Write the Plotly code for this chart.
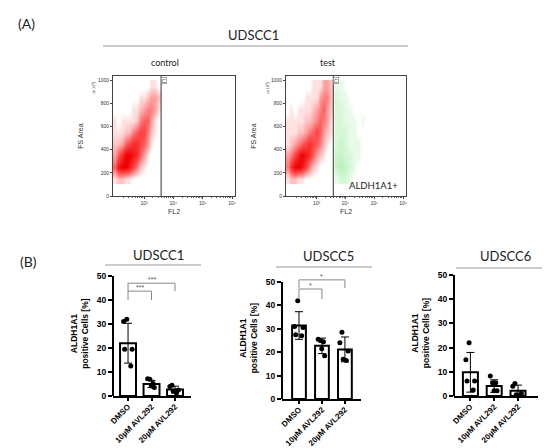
import numpy as np
import plotly.graph_objects as go

# ---- (A) flow cytometry, density (FL2 in log10 units) ----
flow_x_red = [2.0, 2.125, 2.25, 2.375, 2.5, 2.625, 2.75, 2.875, 3.0, 3.125, 3.25, 3.375, 3.5]
flow_x_green = [3.7, 3.85, 4.0, 4.15, 4.3, 4.45, 4.6, 4.75, 4.9]
flow_y = [150, 250, 350, 450, 550, 650, 750, 850, 950]

control_density = [
    [1, 2, 2, 1, 1, 0, 0, 0, 0, 0, 0, 0, 0],
    [5, 8, 9, 9, 8, 6, 4, 2, 1, 0, 0, 0, 0],
    [3, 5, 7, 9, 9, 8, 7, 5, 3, 1, 0, 0, 0],
    [2, 2, 3, 5, 6, 7, 7, 6, 5, 3, 1, 0, 0],
    [1, 1, 1, 2, 2, 4, 5, 6, 6, 4, 2, 1, 0],
    [1, 0, 1, 1, 1, 1, 2, 4, 5, 5, 3, 1, 0],
    [0, 0, 0, 0, 0, 1, 1, 2, 3, 4, 4, 3, 1],
    [0, 0, 0, 0, 0, 0, 0, 1, 1, 2, 3, 3, 2],
    [0, 0, 0, 0, 0, 0, 0, 0, 0, 0, 1, 1, 0],
]
test_density = [
    [1, 2, 2, 1, 1, 0, 0, 0, 0, 0, 0, 0, 0],
    [4, 7, 9, 9, 8, 6, 4, 2, 1, 0, 0, 0, 0],
    [3, 4, 6, 8, 9, 8, 7, 5, 3, 2, 1, 0, 0],
    [1, 2, 3, 4, 5, 6, 7, 6, 5, 4, 2, 1, 0],
    [1, 1, 1, 2, 2, 3, 4, 5, 6, 5, 3, 2, 1],
    [1, 1, 1, 1, 1, 2, 2, 3, 4, 5, 4, 3, 1],
    [0, 1, 0, 1, 1, 1, 1, 2, 3, 4, 5, 3, 2],
    [0, 0, 0, 0, 0, 1, 1, 1, 1, 3, 4, 4, 2],
    [0, 0, 0, 0, 0, 0, 0, 1, 1, 1, 3, 3, 2],
]
positive_density = [
    [1, 2, 2, 1, 0, 0, 0, 0, 0],
    [3, 4, 3, 2, 1, 0, 0, 0, 0],
    [3, 3, 2, 2, 1, 1, 0, 0, 0],
    [2, 3, 2, 1, 1, 1, 0, 0, 0],
    [2, 2, 2, 1, 1, 0, 0, 0, 0],
    [2, 2, 1, 1, 1, 0, 1, 0, 0],
    [2, 2, 1, 1, 0, 0, 0, 0, 0],
    [2, 1, 1, 0, 0, 0, 0, 0, 0],
    [1, 1, 0, 0, 0, 0, 0, 0, 0],
]
gate_fl2 = 3.58
fs_ticks = [0, 200, 400, 600, 800, 1000]
fl2_ticks = [3, 4, 5, 6]
fl2_ticktext = ["10³", "10⁴", "10⁵", "10⁶"]

# ---- (B) ALDH1A1 positive cells [%] ----
groups = ["DMSO", "10µM AVL292", "20µM AVL292"]
lines = ["UDSCC1", "UDSCC5", "UDSCC6"]

udscc1_mean = [22.0, 5.0, 2.7]
udscc1_sd = [8.3, 1.5, 1.4]
udscc1_pts = [[32, 31, 19.5, 19.5, 12.5], [7.2, 7.0, 5.2, 4.2, 3.5], [4.5, 4.0, 2.5, 2.0, 1.2]]

udscc5_mean = [31.4, 22.7, 21.2]
udscc5_sd = [5.9, 3.3, 5.3]
udscc5_pts = [[42, 31, 30.5, 27.5, 27], [25.5, 25, 24.5, 21.5, 18.5], [28.5, 24, 20.5, 17, 16.5]]

udscc6_mean = [9.8, 4.1, 2.2]
udscc6_sd = [8.2, 2.6, 2.3]
udscc6_pts = [[22, 15, 6.2, 6.2, 2.5], [8.3, 5.5, 5.5, 2.2, 2.2], [5.2, 4.0, 1.0, 0.5, 0.2]]

# (from, to, bracket level, leg end, label)
udscc1_sig = [(0, 1, 43.7, 40.0, "***"), (0, 2, 47.0, 43.7, "***")]
udscc5_sig = [(0, 1, 47.0, 42.7, "*"), (0, 2, 50.9, 47.4, "*")]
udscc6_sig = []


def px(x):
    return x / 550


def py(y):
    return 1 - y / 448


def label(x, y, text, size, family="Lato", color="#222"):
    fig.add_annotation(xref="paper", yref="paper", x=px(x), y=py(y), text=text,
                       showarrow=False, xanchor="center", yanchor="middle",
                       font=dict(family=family, size=size, color=color))


fig = go.Figure()

red_scale = [[0, "rgba(255,255,255,0)"], [0.1, "rgba(255,228,228,1)"],
             [0.3, "rgb(255,170,170)"], [0.6, "rgb(255,80,80)"], [1, "rgb(240,0,0)"]]
green_scale = [[0, "rgba(255,255,255,0)"], [0.1, "rgba(238,252,238,1)"],
               [1, "rgb(150,235,150)"]]

fig.add_trace(go.Heatmap(x=flow_x_red, y=flow_y, z=control_density, zsmooth="best",
                         colorscale=red_scale, zmin=0, zmax=9, showscale=False,
                         hoverinfo="skip", xaxis="x", yaxis="y"))
fig.add_trace(go.Heatmap(x=flow_x_red, y=flow_y, z=test_density, zsmooth="best",
                         colorscale=red_scale, zmin=0, zmax=9, showscale=False,
                         hoverinfo="skip", xaxis="x2", yaxis="y2"))
fig.add_trace(go.Heatmap(x=flow_x_green, y=flow_y, z=positive_density, zsmooth="best",
                         colorscale=green_scale, zmin=0, zmax=6, showscale=False,
                         hoverinfo="skip", xaxis="x2", yaxis="y2"))

minor_vals = [float(np.log10(k * 10 ** d)) for d in range(2, 6) for k in range(2, 10)]
small = dict(family="Liberation Sans", size=5, color="#333")
flow_x = dict(range=[1.94, 6.1], tickvals=fl2_ticks, ticktext=fl2_ticktext, tickfont=small,
              ticks="outside", ticklen=2, showline=True, mirror=True, linecolor="#444",
              linewidth=1, showgrid=False, zeroline=False, automargin=False,
              minor=dict(tickvals=minor_vals, ticks="outside", ticklen=1, tickcolor="#666"),
              title=dict(text="FL2", font=dict(family="Liberation Sans", size=7, color="#333"),
                         standoff=4))
flow_y_ax = dict(range=[0, 1035], tickvals=fs_ticks, tickfont=small, ticks="outside",
                 ticklen=2, showline=True, mirror=True, linecolor="#444", linewidth=1,
                 showgrid=False, zeroline=False, automargin=False,
                 title=dict(text="FS Area", font=dict(family="Liberation Sans", size=7, color="#333"),
                            standoff=13))

fig.update_layout(
    xaxis=dict(domain=[px(105), px(227)], anchor="y", **flow_x),
    yaxis=dict(domain=[py(188), py(68)], anchor="x", **flow_y_ax),
    xaxis2=dict(domain=[px(278), px(398)], anchor="y2", **flow_x),
    yaxis2=dict(domain=[py(188), py(68)], anchor="x2", **flow_y_ax),
)

for k, xr in [("", "x"), ("2", "x2")]:
    fig.add_shape(type="line", xref=xr, yref="y%s domain" % k, x0=gate_fl2, x1=gate_fl2,
                  y0=0, y1=1, line=dict(color="#333", width=1))
    fig.add_annotation(xref=xr, yref="y%s domain" % k, x=gate_fl2, y=0.995, text="C",
                       showarrow=False, xanchor="left", yanchor="top", bgcolor="white",
                       bordercolor="#666", borderwidth=0.5, borderpad=0,
                       font=dict(family="Liberation Sans", size=6, color="#333"))
    fig.add_annotation(xref="%s domain" % xr, yref="y%s domain" % k, x=-0.12, y=0.97,
                       text="(x 10³)", textangle=-90, showarrow=False,
                       xanchor="right", yanchor="top",
                       font=dict(family="Liberation Sans", size=4, color="#333"))

label(365, 177, "ALDH1A1+", 9.5)

# ---- bar panels ----
bar_sets = [
    (udscc1_mean, udscc1_sd, udscc1_pts, udscc1_sig),
    (udscc5_mean, udscc5_sd, udscc5_pts, udscc5_sig),
    (udscc6_mean, udscc6_sd, udscc6_pts, udscc6_sig),
]
x_dom = [(105, 183), (274, 353), (446, 530)]
x_rng = [(-0.64, 2.68), (-0.74, 2.7), (-0.69, 2.84)]
y_dom = [(388, 263.2), (391, 269.3), (388, 262.2)]
bar_w = [0.68, 0.6, 0.63]
title_pos = [(150, 247, 97, 193, 257), (320, 248, 268, 364, 259), (498, 248, 448, 544, 260)]
bold = dict(family="Liberation Sans", size=8.5, color="black", weight="bold")
bold_x = dict(family="Liberation Sans", size=8, color="black", weight="bold")

for n, (mean, sd, pts, sig) in enumerate(bar_sets):
    ax = str(n + 3)
    fig.add_trace(go.Bar(x=[0, 1, 2], y=mean, width=bar_w[n],
                         marker=dict(color="white", line=dict(color="black", width=2)),
                         error_y=dict(type="data", array=sd, color="black", thickness=1, width=4),
                         xaxis="x" + ax, yaxis="y" + ax, hoverinfo="skip"))
    bx, by = [], []
    for i, vals in enumerate(pts):
        bx += [i] * len(vals)
        by += vals
    fig.add_trace(go.Box(x=bx, y=by, boxpoints="all", jitter=0.9, pointpos=0, width=0.5,
                         fillcolor="rgba(0,0,0,0)", line=dict(width=0, color="rgba(0,0,0,0)"),
                         marker=dict(color="black", size=5),
                         xaxis="x" + ax, yaxis="y" + ax, hoverinfo="skip"))
    fig.layout["xaxis" + ax] = dict(
        domain=[px(x_dom[n][0]), px(x_dom[n][1])], anchor="y" + ax, range=list(x_rng[n]),
        tickvals=[0, 1, 2], ticktext=groups, tickangle=-45, tickfont=bold_x, automargin=False,
        showline=True, linecolor="black", linewidth=2, ticks="outside", ticklen=3,
        tickwidth=1.5, tickcolor="black", showgrid=False, zeroline=False,
        ticklabelstandoff=-2)
    fig.layout["yaxis" + ax] = dict(
        domain=[py(y_dom[n][0]), py(y_dom[n][1])], anchor="x" + ax, range=[0, 52],
        tickvals=[0, 10, 20, 30, 40, 50], tickfont=bold, ticks="outside", ticklen=4,
        tickwidth=1.5, tickcolor="black", showline=False, showgrid=False, zeroline=False,
        automargin=False,
        title=dict(text="ALDH1A1<br>positive Cells [%]", font=bold, standoff=6))
    fig.add_shape(type="line", xref="x%s domain" % ax, yref="y" + ax, x0=0, x1=0, y0=0, y1=50,
                  line=dict(color="black", width=2))
    for (i, j, lvl, leg, lab) in sig:
        fig.add_shape(type="path", xref="x" + ax, yref="y" + ax,
                      path="M %s,%s L %s,%s L %s,%s L %s,%s" % (i, leg, i, lvl, j, lvl, j, leg),
                      line=dict(color="#888", width=1))
        fig.add_annotation(xref="x" + ax, yref="y" + ax, x=(i + j) / 2, y=lvl, text=lab,
                           showarrow=False, xanchor="center", yanchor="bottom", yshift=-2,
                           font=dict(family="Liberation Sans", size=7, color="#555"))
    tx, ty, l0, l1, ly = title_pos[n]
    label(tx, ty, lines[n], 13)
    fig.add_shape(type="line", xref="paper", yref="paper", x0=px(l0), x1=px(l1),
                  y0=py(ly), y1=py(ly), line=dict(color="#999", width=1))

# ---- panel headings ----
label(245, 27, "UDSCC1", 13)
fig.add_shape(type="line", xref="paper", yref="paper", x0=px(95), x1=px(400),
              y0=py(38), y1=py(38), line=dict(color="#999", width=1))
label(157, 55, "control", 9)
label(320, 55, "test", 9)
label(18, 15, "(A)", 14)
label(20, 253, "(B)", 14)

fig.update_layout(width=550, height=448, margin=dict(l=0, r=0, t=0, b=0, autoexpand=False),
                  paper_bgcolor="white", plot_bgcolor="white", showlegend=False)

fig.write_html("out.html")
